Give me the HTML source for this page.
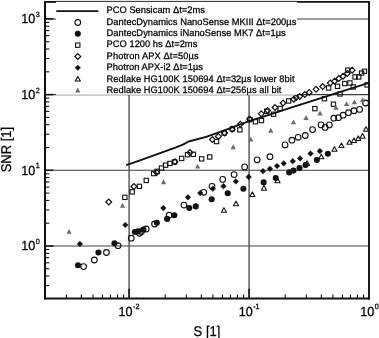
<!DOCTYPE html><html><head><meta charset="utf-8"><title>SNR plot</title>
<style>html,body{margin:0;padding:0;background:#fff}svg{display:block}text{font-family:"Liberation Sans",sans-serif;fill:#000;stroke:#000;stroke-width:0.25px;text-rendering:geometricPrecision}</style></head><body>
<svg width="379" height="338" viewBox="0 0 379 338">
<rect width="379" height="338" fill="#fff"/>
<line x1="46" x2="368" y1="246.0" y2="246.0" stroke="#3c3c3c" stroke-width="1.05"/>
<line x1="46" x2="368" y1="170.3" y2="170.3" stroke="#3c3c3c" stroke-width="1.05"/>
<line x1="46" x2="368" y1="94.6" y2="94.6" stroke="#3c3c3c" stroke-width="1.05"/>
<line x1="46" x2="368" y1="18.9" y2="18.9" stroke="#3c3c3c" stroke-width="1.05"/>
<line y1="2" y2="297" x1="129.1" x2="129.1" stroke="#5a5a5a" stroke-width="1.5"/>
<line y1="2" y2="297" x1="249.1" x2="249.1" stroke="#5a5a5a" stroke-width="1.5"/>
<g>
<circle cx="83.55" cy="266.6" r="2.85" fill="none" stroke="#111" stroke-width="1.1"/>
<circle cx="94.35" cy="260.0" r="2.85" fill="none" stroke="#111" stroke-width="1.1"/>
<circle cx="106.45" cy="252.5" r="2.85" fill="none" stroke="#111" stroke-width="1.1"/>
<circle cx="118.05" cy="245.7" r="2.85" fill="none" stroke="#111" stroke-width="1.1"/>
<circle cx="131.25" cy="238.2" r="2.85" fill="none" stroke="#111" stroke-width="1.1"/>
<circle cx="139.45" cy="233.3" r="2.85" fill="none" stroke="#111" stroke-width="1.1"/>
<circle cx="141.45" cy="231.5" r="2.85" fill="none" stroke="#111" stroke-width="1.1"/>
<circle cx="146.25" cy="229.0" r="2.85" fill="none" stroke="#111" stroke-width="1.1"/>
<circle cx="154.55" cy="224.0" r="2.85" fill="none" stroke="#111" stroke-width="1.1"/>
<circle cx="169.15" cy="215.2" r="2.85" fill="none" stroke="#111" stroke-width="1.1"/>
<circle cx="183.95" cy="205.1" r="2.85" fill="none" stroke="#111" stroke-width="1.1"/>
<circle cx="203.75" cy="192.3" r="2.85" fill="none" stroke="#111" stroke-width="1.1"/>
<circle cx="212.05" cy="186.3" r="2.85" fill="none" stroke="#111" stroke-width="1.1"/>
<circle cx="222.75" cy="179.4" r="2.85" fill="none" stroke="#111" stroke-width="1.1"/>
<circle cx="234.05" cy="174.6" r="2.85" fill="none" stroke="#111" stroke-width="1.1"/>
<circle cx="244.65" cy="166.9" r="2.85" fill="none" stroke="#111" stroke-width="1.1"/>
<circle cx="257.15" cy="159.8" r="2.85" fill="none" stroke="#111" stroke-width="1.1"/>
<circle cx="269.95" cy="156.7" r="2.85" fill="none" stroke="#111" stroke-width="1.1"/>
<circle cx="285.05" cy="144.9" r="2.85" fill="none" stroke="#111" stroke-width="1.1"/>
<circle cx="291.95" cy="140.2" r="2.85" fill="none" stroke="#111" stroke-width="1.1"/>
<circle cx="298.15" cy="137.3" r="2.85" fill="none" stroke="#111" stroke-width="1.1"/>
<circle cx="305.25" cy="135.5" r="2.85" fill="none" stroke="#111" stroke-width="1.1"/>
<circle cx="312.55" cy="129.6" r="2.85" fill="none" stroke="#111" stroke-width="1.1"/>
<circle cx="321.05" cy="124.9" r="2.85" fill="none" stroke="#111" stroke-width="1.1"/>
<circle cx="325.15" cy="127.4" r="2.85" fill="none" stroke="#111" stroke-width="1.1"/>
<circle cx="329.35" cy="124.9" r="2.85" fill="none" stroke="#111" stroke-width="1.1"/>
<circle cx="333.85" cy="118.2" r="2.85" fill="none" stroke="#111" stroke-width="1.1"/>
<circle cx="338.45" cy="117.7" r="2.85" fill="none" stroke="#111" stroke-width="1.1"/>
<circle cx="343.15" cy="115.2" r="2.85" fill="none" stroke="#111" stroke-width="1.1"/>
<circle cx="348.45" cy="112.7" r="2.85" fill="none" stroke="#111" stroke-width="1.1"/>
<circle cx="353.95" cy="110.7" r="2.85" fill="none" stroke="#111" stroke-width="1.1"/>
<circle cx="359.55" cy="109.4" r="2.85" fill="none" stroke="#111" stroke-width="1.1"/>
<circle cx="365.65" cy="103.0" r="2.85" fill="none" stroke="#111" stroke-width="1.1"/>
<circle cx="78.05" cy="265.3" r="3.05" fill="#111" stroke="#111" stroke-width="0"/>
<circle cx="98.45" cy="252.5" r="3.05" fill="#111" stroke="#111" stroke-width="0"/>
<circle cx="114.45" cy="243.2" r="3.05" fill="#111" stroke="#111" stroke-width="0"/>
<circle cx="134.85" cy="232.0" r="3.05" fill="#111" stroke="#111" stroke-width="0"/>
<circle cx="137.95" cy="231.4" r="3.05" fill="#111" stroke="#111" stroke-width="0"/>
<circle cx="143.45" cy="229.5" r="3.05" fill="#111" stroke="#111" stroke-width="0"/>
<circle cx="156.85" cy="222.7" r="3.05" fill="#111" stroke="#111" stroke-width="0"/>
<circle cx="167.15" cy="218.9" r="3.05" fill="#111" stroke="#111" stroke-width="0"/>
<circle cx="174.35" cy="215.2" r="3.05" fill="#111" stroke="#111" stroke-width="0"/>
<circle cx="189.25" cy="208.1" r="3.05" fill="#111" stroke="#111" stroke-width="0"/>
<circle cx="195.75" cy="206.4" r="3.05" fill="#111" stroke="#111" stroke-width="0"/>
<circle cx="211.65" cy="199.2" r="3.05" fill="#111" stroke="#111" stroke-width="0"/>
<circle cx="227.75" cy="193.2" r="3.05" fill="#111" stroke="#111" stroke-width="0"/>
<circle cx="243.35" cy="188.7" r="3.05" fill="#111" stroke="#111" stroke-width="0"/>
<circle cx="263.65" cy="182.4" r="3.05" fill="#111" stroke="#111" stroke-width="0"/>
<circle cx="275.75" cy="178.1" r="3.05" fill="#111" stroke="#111" stroke-width="0"/>
<circle cx="289.25" cy="172.4" r="3.05" fill="#111" stroke="#111" stroke-width="0"/>
<circle cx="293.55" cy="170.6" r="3.05" fill="#111" stroke="#111" stroke-width="0"/>
<circle cx="299.55" cy="168.1" r="3.05" fill="#111" stroke="#111" stroke-width="0"/>
<circle cx="305.55" cy="165.1" r="3.05" fill="#111" stroke="#111" stroke-width="0"/>
<circle cx="316.85" cy="160.1" r="3.05" fill="#111" stroke="#111" stroke-width="0"/>
<circle cx="327.85" cy="153.8" r="3.05" fill="#111" stroke="#111" stroke-width="0"/>
<rect x="122.7" y="195.2" width="4.3" height="4.3" fill="none" stroke="#111" stroke-width="1.1"/>
<rect x="130.1" y="189.7" width="4.3" height="4.3" fill="none" stroke="#111" stroke-width="1.1"/>
<rect x="137.3" y="184.2" width="4.3" height="4.3" fill="none" stroke="#111" stroke-width="1.1"/>
<rect x="144.1" y="178.3" width="4.3" height="4.3" fill="none" stroke="#111" stroke-width="1.1"/>
<rect x="151.5" y="171.4" width="4.3" height="4.3" fill="none" stroke="#111" stroke-width="1.1"/>
<rect x="155.0" y="169.2" width="4.3" height="4.3" fill="none" stroke="#111" stroke-width="1.1"/>
<rect x="159.3" y="165.9" width="4.3" height="4.3" fill="none" stroke="#111" stroke-width="1.1"/>
<rect x="163.4" y="163.0" width="4.3" height="4.3" fill="none" stroke="#111" stroke-width="1.1"/>
<rect x="167.8" y="161.3" width="4.3" height="4.3" fill="none" stroke="#111" stroke-width="1.1"/>
<rect x="172.4" y="159.8" width="4.3" height="4.3" fill="none" stroke="#111" stroke-width="1.1"/>
<rect x="179.5" y="156.3" width="4.3" height="4.3" fill="none" stroke="#111" stroke-width="1.1"/>
<rect x="185.4" y="152.5" width="4.3" height="4.3" fill="none" stroke="#111" stroke-width="1.1"/>
<rect x="191.2" y="152.2" width="4.3" height="4.3" fill="none" stroke="#111" stroke-width="1.1"/>
<rect x="199.5" y="156.7" width="4.3" height="4.3" fill="none" stroke="#111" stroke-width="1.1"/>
<rect x="207.6" y="154.8" width="4.3" height="4.3" fill="none" stroke="#111" stroke-width="1.1"/>
<rect x="214.4" y="139.4" width="4.3" height="4.3" fill="none" stroke="#111" stroke-width="1.1"/>
<rect x="221.9" y="130.9" width="4.3" height="4.3" fill="none" stroke="#111" stroke-width="1.1"/>
<rect x="230.2" y="126.7" width="4.3" height="4.3" fill="none" stroke="#111" stroke-width="1.1"/>
<rect x="237.7" y="127.7" width="4.3" height="4.3" fill="none" stroke="#111" stroke-width="1.1"/>
<rect x="247.7" y="117.5" width="4.3" height="4.3" fill="none" stroke="#111" stroke-width="1.1"/>
<rect x="253.3" y="119.6" width="4.3" height="4.3" fill="none" stroke="#111" stroke-width="1.1"/>
<rect x="259.3" y="118.4" width="4.3" height="4.3" fill="none" stroke="#111" stroke-width="1.1"/>
<rect x="264.6" y="109.1" width="4.3" height="4.3" fill="none" stroke="#111" stroke-width="1.1"/>
<rect x="271.4" y="112.1" width="4.3" height="4.3" fill="none" stroke="#111" stroke-width="1.1"/>
<rect x="277.9" y="106.3" width="4.3" height="4.3" fill="none" stroke="#111" stroke-width="1.1"/>
<rect x="286.5" y="98.8" width="4.3" height="4.3" fill="none" stroke="#111" stroke-width="1.1"/>
<rect x="312.7" y="106.5" width="4.3" height="4.3" fill="none" stroke="#111" stroke-width="1.1"/>
<rect x="322.3" y="96.6" width="4.3" height="4.3" fill="none" stroke="#111" stroke-width="1.1"/>
<rect x="326.5" y="85.8" width="4.3" height="4.3" fill="none" stroke="#111" stroke-width="1.1"/>
<rect x="331.3" y="102.0" width="4.3" height="4.3" fill="none" stroke="#111" stroke-width="1.1"/>
<rect x="335.4" y="84.2" width="4.3" height="4.3" fill="none" stroke="#111" stroke-width="1.1"/>
<rect x="337.9" y="91.8" width="4.3" height="4.3" fill="none" stroke="#111" stroke-width="1.1"/>
<rect x="342.6" y="81.4" width="4.3" height="4.3" fill="none" stroke="#111" stroke-width="1.1"/>
<rect x="347.8" y="80.8" width="4.3" height="4.3" fill="none" stroke="#111" stroke-width="1.1"/>
<rect x="351.1" y="84.8" width="4.3" height="4.3" fill="none" stroke="#111" stroke-width="1.1"/>
<rect x="345.6" y="68.0" width="4.3" height="4.3" fill="none" stroke="#111" stroke-width="1.1"/>
<rect x="352.9" y="74.8" width="4.3" height="4.3" fill="none" stroke="#111" stroke-width="1.1"/>
<rect x="356.6" y="74.8" width="4.3" height="4.3" fill="none" stroke="#111" stroke-width="1.1"/>
<rect x="359.4" y="70.9" width="4.3" height="4.3" fill="none" stroke="#111" stroke-width="1.1"/>
<rect x="362.3" y="69.1" width="4.3" height="4.3" fill="none" stroke="#111" stroke-width="1.1"/>
<rect x="364.9" y="82.8" width="4.3" height="4.3" fill="none" stroke="#111" stroke-width="1.1"/>
<path d="M105.8 202.0L108.75 199.1L111.7 202.0L108.75 204.9Z" fill="none" stroke="#111" stroke-width="1.2"/>
<path d="M131.0 186.5L133.95 183.6L136.8 186.5L133.95 189.4Z" fill="none" stroke="#111" stroke-width="1.2"/>
<path d="M153.8 172.4L156.65 169.5L159.6 172.4L156.65 175.3Z" fill="none" stroke="#111" stroke-width="1.2"/>
<path d="M172.0 161.8L174.95 158.9L177.8 161.8L174.95 164.7Z" fill="none" stroke="#111" stroke-width="1.2"/>
<path d="M187.0 152.5L189.95 149.6L192.8 152.5L189.95 155.4Z" fill="none" stroke="#111" stroke-width="1.2"/>
<path d="M209.5 139.5L212.45 136.6L215.3 139.5L212.45 142.4Z" fill="none" stroke="#111" stroke-width="1.2"/>
<path d="M215.4 136.4L218.35 133.5L221.2 136.4L218.35 139.3Z" fill="none" stroke="#111" stroke-width="1.2"/>
<path d="M221.8 133.0L224.65 130.1L227.6 133.0L224.65 135.9Z" fill="none" stroke="#111" stroke-width="1.2"/>
<path d="M229.2 129.3L232.05 126.4L235.0 129.3L232.05 132.2Z" fill="none" stroke="#111" stroke-width="1.2"/>
<path d="M237.4 124.3L240.35 121.4L243.2 124.3L240.35 127.2Z" fill="none" stroke="#111" stroke-width="1.2"/>
<path d="M246.8 119.0L249.65 116.1L252.6 119.0L249.65 121.9Z" fill="none" stroke="#111" stroke-width="1.2"/>
<path d="M258.4 113.8L261.25 110.9L264.1 113.8L261.25 116.7Z" fill="none" stroke="#111" stroke-width="1.2"/>
<path d="M264.7 110.5L267.55 107.6L270.4 110.5L267.55 113.4Z" fill="none" stroke="#111" stroke-width="1.2"/>
<path d="M272.2 107.5L275.05 104.6L277.9 107.5L275.05 110.4Z" fill="none" stroke="#111" stroke-width="1.2"/>
<path d="M280.2 103.0L283.05 100.1L285.9 103.0L283.05 105.9Z" fill="none" stroke="#111" stroke-width="1.2"/>
<path d="M290.9 99.2L293.75 96.3L296.6 99.2L293.75 102.1Z" fill="none" stroke="#111" stroke-width="1.2"/>
<path d="M293.2 97.6L296.15 94.7L299.0 97.6L296.15 100.5Z" fill="none" stroke="#111" stroke-width="1.2"/>
<path d="M296.9 96.4L299.75 93.5L302.6 96.4L299.75 99.3Z" fill="none" stroke="#111" stroke-width="1.2"/>
<path d="M301.9 94.4L304.75 91.5L307.6 94.4L304.75 97.3Z" fill="none" stroke="#111" stroke-width="1.2"/>
<path d="M306.4 92.4L309.25 89.5L312.1 92.4L309.25 95.3Z" fill="none" stroke="#111" stroke-width="1.2"/>
<path d="M313.2 89.3L316.05 86.4L318.9 89.3L316.05 92.2Z" fill="none" stroke="#111" stroke-width="1.2"/>
<path d="M319.8 86.5L322.65 83.6L325.5 86.5L322.65 89.4Z" fill="none" stroke="#111" stroke-width="1.2"/>
<path d="M327.4 83.0L330.25 80.1L333.1 83.0L330.25 85.9Z" fill="none" stroke="#111" stroke-width="1.2"/>
<path d="M331.7 81.2L334.55 78.3L337.4 81.2L334.55 84.1Z" fill="none" stroke="#111" stroke-width="1.2"/>
<path d="M336.0 78.5L338.85 75.6L341.8 78.5L338.85 81.4Z" fill="none" stroke="#111" stroke-width="1.2"/>
<path d="M340.2 76.2L343.05 73.3L345.9 76.2L343.05 79.1Z" fill="none" stroke="#111" stroke-width="1.2"/>
<path d="M344.4 73.5L347.25 70.6L350.1 73.5L347.25 76.4Z" fill="none" stroke="#111" stroke-width="1.2"/>
<path d="M349.2 70.2L352.15 67.3L355.0 70.2L352.15 73.1Z" fill="none" stroke="#111" stroke-width="1.2"/>
<path d="M77.0 243.9L79.85 241.1L82.7 243.9L79.85 246.8Z" fill="#111" stroke="#111" stroke-width="0.4"/>
<path d="M122.5 225.0L125.35 222.2L128.2 225.0L125.35 227.8Z" fill="#111" stroke="#111" stroke-width="0.4"/>
<path d="M160.5 208.1L163.35 205.2L166.2 208.1L163.35 210.9Z" fill="#111" stroke="#111" stroke-width="0.4"/>
<path d="M185.1 197.3L187.95 194.5L190.8 197.3L187.95 200.2Z" fill="#111" stroke="#111" stroke-width="0.4"/>
<path d="M197.4 193.1L200.25 190.2L203.1 193.1L200.25 195.9Z" fill="#111" stroke="#111" stroke-width="0.4"/>
<path d="M210.0 188.7L212.85 185.8L215.7 188.7L212.85 191.5Z" fill="#111" stroke="#111" stroke-width="0.4"/>
<path d="M220.6 186.2L223.45 183.3L226.3 186.2L223.45 189.0Z" fill="#111" stroke="#111" stroke-width="0.4"/>
<path d="M233.0 181.4L235.85 178.6L238.7 181.4L235.85 184.2Z" fill="#111" stroke="#111" stroke-width="0.4"/>
<path d="M245.8 176.9L248.65 174.1L251.5 176.9L248.65 179.8Z" fill="#111" stroke="#111" stroke-width="0.4"/>
<path d="M260.1 171.2L262.95 168.3L265.8 171.2L262.95 174.0Z" fill="#111" stroke="#111" stroke-width="0.4"/>
<path d="M267.1 168.8L269.95 166.0L272.8 168.8L269.95 171.7Z" fill="#111" stroke="#111" stroke-width="0.4"/>
<path d="M274.2 166.0L277.05 163.2L279.9 166.0L277.05 168.8Z" fill="#111" stroke="#111" stroke-width="0.4"/>
<path d="M280.9 163.4L283.75 160.6L286.6 163.4L283.75 166.2Z" fill="#111" stroke="#111" stroke-width="0.4"/>
<path d="M289.9 161.2L292.75 158.3L295.6 161.2L292.75 164.0Z" fill="#111" stroke="#111" stroke-width="0.4"/>
<path d="M297.2 158.4L300.05 155.6L302.9 158.4L300.05 161.2Z" fill="#111" stroke="#111" stroke-width="0.4"/>
<path d="M307.7 153.6L310.55 150.8L313.4 153.6L310.55 156.4Z" fill="#111" stroke="#111" stroke-width="0.4"/>
<path d="M317.0 151.1L319.85 148.2L322.7 151.1L319.85 153.9Z" fill="#111" stroke="#111" stroke-width="0.4"/>
<path d="M221.40 212.3L226.50 212.3L223.95 207.7Z" fill="none" stroke="#111" stroke-width="1.1" stroke-linejoin="round"/>
<path d="M233.50 205.8L238.60 205.8L236.05 201.2Z" fill="none" stroke="#111" stroke-width="1.1" stroke-linejoin="round"/>
<path d="M249.80 196.5L254.90 196.5L252.35 191.9Z" fill="none" stroke="#111" stroke-width="1.1" stroke-linejoin="round"/>
<path d="M261.40 190.2L266.50 190.2L263.95 185.6Z" fill="none" stroke="#111" stroke-width="1.1" stroke-linejoin="round"/>
<path d="M275.00 182.7L280.10 182.7L277.55 178.1Z" fill="none" stroke="#111" stroke-width="1.1" stroke-linejoin="round"/>
<path d="M304.50 165.4L309.60 165.4L307.05 160.8Z" fill="none" stroke="#111" stroke-width="1.1" stroke-linejoin="round"/>
<path d="M318.80 158.8L323.90 158.8L321.35 154.2Z" fill="none" stroke="#111" stroke-width="1.1" stroke-linejoin="round"/>
<path d="M331.90 151.3L337.00 151.3L334.45 146.7Z" fill="none" stroke="#111" stroke-width="1.1" stroke-linejoin="round"/>
<path d="M338.90 147.5L344.00 147.5L341.45 142.9Z" fill="none" stroke="#111" stroke-width="1.1" stroke-linejoin="round"/>
<path d="M346.90 144.3L352.00 144.3L349.45 139.7Z" fill="none" stroke="#111" stroke-width="1.1" stroke-linejoin="round"/>
<path d="M351.40 142.5L356.50 142.5L353.95 137.9Z" fill="none" stroke="#111" stroke-width="1.1" stroke-linejoin="round"/>
<path d="M355.70 140.5L360.80 140.5L358.25 135.9Z" fill="none" stroke="#111" stroke-width="1.1" stroke-linejoin="round"/>
<path d="M360.00 138.2L365.10 138.2L362.55 133.6Z" fill="none" stroke="#111" stroke-width="1.1" stroke-linejoin="round"/>
<path d="M363.50 131.3L368.60 131.3L366.05 126.7Z" fill="none" stroke="#111" stroke-width="1.1" stroke-linejoin="round"/>
<path d="M66.5 233.8L71.6 233.8L69.05 228.9Z" fill="#6c6c6c"/>
<path d="M120.0 207.7L125.1 207.7L122.55 202.8Z" fill="#6c6c6c"/>
<path d="M161.0 184.2L166.2 184.2L163.55 179.3Z" fill="#6c6c6c"/>
<path d="M195.0 168.6L200.2 168.6L197.55 163.7Z" fill="#6c6c6c"/>
<path d="M230.6 149.2L235.8 149.2L233.15 144.3Z" fill="#6c6c6c"/>
<path d="M248.2 141.6L253.4 141.6L250.85 136.7Z" fill="#6c6c6c"/>
<path d="M268.1 132.7L273.4 132.7L270.75 127.8Z" fill="#6c6c6c"/>
<path d="M290.8 124.3L296.1 124.3L293.45 119.4Z" fill="#6c6c6c"/>
<path d="M303.4 119.9L308.7 119.9L306.05 115.0Z" fill="#6c6c6c"/>
<path d="M317.4 115.4L322.7 115.4L320.05 110.5Z" fill="#6c6c6c"/>
<path d="M333.3 109.8L338.6 109.8L335.95 104.9Z" fill="#6c6c6c"/>
<path d="M343.9 106.1L349.2 106.1L346.55 101.2Z" fill="#6c6c6c"/>
<path d="M351.8 104.3L357.0 104.3L354.35 99.4Z" fill="#6c6c6c"/>
<path d="M359.9 102.1L365.2 102.1L362.55 97.2Z" fill="#6c6c6c"/>
<polyline fill="none" stroke="#111" stroke-width="1.9" stroke-linejoin="round" points="126.25,165.1 140.0,160.35 176.0,147.3 183.45,144.35 188.65,141.5 206.15,136.9 220.25,131.9 249.15,121.2 270.55,114.3 290.15,107.9 320.15,98.4 345.15,90.4 368.75,82.9"/>
</g>
<rect x="56" y="1.85" width="241" height="92.95" fill="#fff"/>
<line x1="45" x2="45" y1="0.95" y2="299.4" stroke="#111" stroke-width="2"/>
<line x1="369" x2="369" y1="0.95" y2="299.4" stroke="#111" stroke-width="1.9"/>
<line x1="44" x2="370" y1="298.4" y2="298.4" stroke="#111" stroke-width="2.0"/>
<line x1="44" x2="56" y1="1.9" y2="1.9" stroke="#111" stroke-width="1.9"/>
<line x1="56" x2="297" y1="1.4" y2="1.4" stroke="#111" stroke-width="0.9"/>
<line x1="297" x2="369.9" y1="1.9" y2="1.9" stroke="#111" stroke-width="1.9"/>
<line x1="45" x2="49.3" y1="285.6" y2="285.6" stroke="#111" stroke-width="1.1"/>
<line x1="45" x2="49.3" y1="276.1" y2="276.1" stroke="#111" stroke-width="1.1"/>
<line x1="45" x2="49.3" y1="268.8" y2="268.8" stroke="#111" stroke-width="1.1"/>
<line x1="45" x2="49.3" y1="262.8" y2="262.8" stroke="#111" stroke-width="1.1"/>
<line x1="45" x2="49.3" y1="257.7" y2="257.7" stroke="#111" stroke-width="1.1"/>
<line x1="45" x2="49.3" y1="253.3" y2="253.3" stroke="#111" stroke-width="1.1"/>
<line x1="45" x2="49.3" y1="249.5" y2="249.5" stroke="#111" stroke-width="1.1"/>
<line x1="45" x2="53.5" y1="246.0" y2="246.0" stroke="#111" stroke-width="1.5"/>
<line x1="45" x2="49.3" y1="223.2" y2="223.2" stroke="#111" stroke-width="1.1"/>
<line x1="45" x2="49.3" y1="209.9" y2="209.9" stroke="#111" stroke-width="1.1"/>
<line x1="45" x2="49.3" y1="200.4" y2="200.4" stroke="#111" stroke-width="1.1"/>
<line x1="45" x2="49.3" y1="193.1" y2="193.1" stroke="#111" stroke-width="1.1"/>
<line x1="45" x2="49.3" y1="187.1" y2="187.1" stroke="#111" stroke-width="1.1"/>
<line x1="45" x2="49.3" y1="182.0" y2="182.0" stroke="#111" stroke-width="1.1"/>
<line x1="45" x2="49.3" y1="177.6" y2="177.6" stroke="#111" stroke-width="1.1"/>
<line x1="45" x2="49.3" y1="173.8" y2="173.8" stroke="#111" stroke-width="1.1"/>
<line x1="45" x2="53.5" y1="170.3" y2="170.3" stroke="#111" stroke-width="1.5"/>
<line x1="45" x2="49.3" y1="147.5" y2="147.5" stroke="#111" stroke-width="1.1"/>
<line x1="45" x2="49.3" y1="134.2" y2="134.2" stroke="#111" stroke-width="1.1"/>
<line x1="45" x2="49.3" y1="124.7" y2="124.7" stroke="#111" stroke-width="1.1"/>
<line x1="45" x2="49.3" y1="117.4" y2="117.4" stroke="#111" stroke-width="1.1"/>
<line x1="45" x2="49.3" y1="111.4" y2="111.4" stroke="#111" stroke-width="1.1"/>
<line x1="45" x2="49.3" y1="106.3" y2="106.3" stroke="#111" stroke-width="1.1"/>
<line x1="45" x2="49.3" y1="101.9" y2="101.9" stroke="#111" stroke-width="1.1"/>
<line x1="45" x2="49.3" y1="98.1" y2="98.1" stroke="#111" stroke-width="1.1"/>
<line x1="45" x2="53.5" y1="94.6" y2="94.6" stroke="#111" stroke-width="1.5"/>
<line x1="45" x2="49.3" y1="71.8" y2="71.8" stroke="#111" stroke-width="1.1"/>
<line x1="45" x2="49.3" y1="58.5" y2="58.5" stroke="#111" stroke-width="1.1"/>
<line x1="45" x2="49.3" y1="49.0" y2="49.0" stroke="#111" stroke-width="1.1"/>
<line x1="45" x2="49.3" y1="41.7" y2="41.7" stroke="#111" stroke-width="1.1"/>
<line x1="45" x2="49.3" y1="35.7" y2="35.7" stroke="#111" stroke-width="1.1"/>
<line x1="45" x2="49.3" y1="30.6" y2="30.6" stroke="#111" stroke-width="1.1"/>
<line x1="45" x2="49.3" y1="26.2" y2="26.2" stroke="#111" stroke-width="1.1"/>
<line x1="45" x2="49.3" y1="22.4" y2="22.4" stroke="#111" stroke-width="1.1"/>
<line x1="45" x2="53.5" y1="18.9" y2="18.9" stroke="#111" stroke-width="1.5"/>
<line y1="298" y2="294.4" x1="66.4" x2="66.4" stroke="#111" stroke-width="1.1"/>
<line y1="298" y2="294.4" x1="81.4" x2="81.4" stroke="#111" stroke-width="1.1"/>
<line y1="298" y2="294.4" x1="93.0" x2="93.0" stroke="#111" stroke-width="1.1"/>
<line y1="298" y2="294.4" x1="102.5" x2="102.5" stroke="#111" stroke-width="1.1"/>
<line y1="298" y2="294.4" x1="110.5" x2="110.5" stroke="#111" stroke-width="1.1"/>
<line y1="298" y2="294.4" x1="117.5" x2="117.5" stroke="#111" stroke-width="1.1"/>
<line y1="298" y2="294.4" x1="123.6" x2="123.6" stroke="#111" stroke-width="1.1"/>
<line y1="298" y2="288.8" x1="129.1" x2="129.1" stroke="#111" stroke-width="1.5"/>
<line y1="298" y2="294.4" x1="165.2" x2="165.2" stroke="#111" stroke-width="1.1"/>
<line y1="298" y2="294.4" x1="186.3" x2="186.3" stroke="#111" stroke-width="1.1"/>
<line y1="298" y2="294.4" x1="201.3" x2="201.3" stroke="#111" stroke-width="1.1"/>
<line y1="298" y2="294.4" x1="212.9" x2="212.9" stroke="#111" stroke-width="1.1"/>
<line y1="298" y2="294.4" x1="222.4" x2="222.4" stroke="#111" stroke-width="1.1"/>
<line y1="298" y2="294.4" x1="230.5" x2="230.5" stroke="#111" stroke-width="1.1"/>
<line y1="298" y2="294.4" x1="237.4" x2="237.4" stroke="#111" stroke-width="1.1"/>
<line y1="298" y2="294.4" x1="243.6" x2="243.6" stroke="#111" stroke-width="1.1"/>
<line y1="298" y2="288.8" x1="249.1" x2="249.1" stroke="#111" stroke-width="1.5"/>
<line y1="298" y2="294.4" x1="285.2" x2="285.2" stroke="#111" stroke-width="1.1"/>
<line y1="298" y2="294.4" x1="306.3" x2="306.3" stroke="#111" stroke-width="1.1"/>
<line y1="298" y2="294.4" x1="321.3" x2="321.3" stroke="#111" stroke-width="1.1"/>
<line y1="298" y2="294.4" x1="332.9" x2="332.9" stroke="#111" stroke-width="1.1"/>
<line y1="298" y2="294.4" x1="342.4" x2="342.4" stroke="#111" stroke-width="1.1"/>
<line y1="298" y2="294.4" x1="350.4" x2="350.4" stroke="#111" stroke-width="1.1"/>
<line y1="298" y2="294.4" x1="357.4" x2="357.4" stroke="#111" stroke-width="1.1"/>
<line y1="298" y2="294.4" x1="363.5" x2="363.5" stroke="#111" stroke-width="1.1"/>
<text transform="translate(21.3,250.3) scale(1,1.045)" font-size="12.6">10</text><text transform="translate(35.8,243.9) scale(1,1.07)" font-size="7.2">0</text>
<text transform="translate(21.3,174.6) scale(1,1.045)" font-size="12.6">10</text><text transform="translate(35.8,168.2) scale(1,1.07)" font-size="7.2">1</text>
<text transform="translate(21.3,98.9) scale(1,1.045)" font-size="12.6">10</text><text transform="translate(35.8,92.5) scale(1,1.07)" font-size="7.2">2</text>
<text transform="translate(21.3,23.2) scale(1,1.045)" font-size="12.6">10</text><text transform="translate(35.8,16.8) scale(1,1.07)" font-size="7.2">3</text>
<text transform="translate(118.5,315.75) scale(1,1.045)" font-size="12.6">10</text><text transform="translate(133.0,309.4) scale(1,1.07)" font-size="7.2">-2</text>
<text transform="translate(238.7,315.75) scale(1,1.045)" font-size="12.6">10</text><text transform="translate(253.2,309.4) scale(1,1.07)" font-size="7.2">-1</text>
<text transform="translate(360.3,315.75) scale(1,1.045)" font-size="12.6">10</text><text transform="translate(374.8,309.4) scale(1,1.07)" font-size="7.2">0</text>
<text transform="translate(193.6,335.5) scale(1,1.085)" font-size="13.0">S [1]</text>
<text transform="translate(10.6,172.3) rotate(-90) scale(1,1.085)" font-size="13.0">SNR [1]</text>
<text transform="translate(106.6,13.15) scale(1,1.02)" font-size="9.3" textLength="98.2" lengthAdjust="spacing">PCO Sensicam Δt=2ms</text>
<line x1="56.3" x2="98.3" y1="11.15" y2="11.15" stroke="#111" stroke-width="1.9"/>
<text transform="translate(106.6,24.56) scale(1,1.02)" font-size="9.3" textLength="189.8" lengthAdjust="spacing">DantecDynamics NanoSense MKIII Δt=200µs</text>
<circle cx="77.8" cy="22.5" r="2.85" fill="none" stroke="#111" stroke-width="1.1"/>
<text transform="translate(106.6,35.97) scale(1,1.02)" font-size="9.3" textLength="179.1" lengthAdjust="spacing">DantecDynamics iNanoSense MK7 Δt=1µs</text>
<circle cx="77.8" cy="33.8" r="3.05" fill="#111" stroke="#111" stroke-width="0"/>
<text transform="translate(106.6,47.38) scale(1,1.02)" font-size="9.3" textLength="90.7" lengthAdjust="spacing">PCO 1200 hs Δt=2ms</text>
<rect x="75.6" y="43.0" width="4.3" height="4.3" fill="none" stroke="#111" stroke-width="1.1"/>
<text transform="translate(106.6,58.79) scale(1,1.02)" font-size="9.3" textLength="92.1" lengthAdjust="spacing">Photron APX Δt=50µs</text>
<path d="M74.9 56.4L77.8 53.5L80.7 56.4L77.8 59.3Z" fill="none" stroke="#111" stroke-width="1.2"/>
<text transform="translate(106.6,70.2) scale(1,1.02)" font-size="9.3" textLength="96.4" lengthAdjust="spacing">Photron APX-i2 Δt=1µs</text>
<path d="M75.0 67.7L77.8 64.9L80.6 67.7L77.8 70.5Z" fill="#111" stroke="#111" stroke-width="0.4"/>
<text transform="translate(106.6,81.61) scale(1,1.02)" font-size="9.3" textLength="187.9" lengthAdjust="spacing">Redlake HG100K 150694 Δt=32µs lower 8bit</text>
<path d="M75.25 81.0L80.35 81.0L77.8 76.4Z" fill="none" stroke="#111" stroke-width="1.1" stroke-linejoin="round"/>
<text transform="translate(106.6,93.02) scale(1,1.02)" font-size="9.3" textLength="174.8" lengthAdjust="spacing">Redlake HG100K 150694 Δt=256µs all bit</text>
<path d="M75.2 92.5L80.4 92.5L77.8 87.6Z" fill="#6c6c6c"/>
</svg></body></html>
